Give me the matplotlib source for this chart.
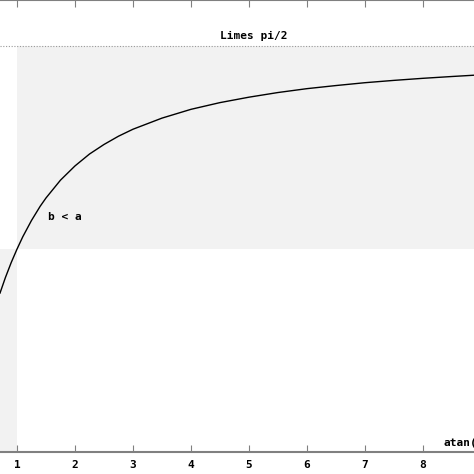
import matplotlib
matplotlib.use("Agg")
import matplotlib.pyplot as plt
from matplotlib.patches import Rectangle

xs = [0.707, 0.8, 0.9, 1.0, 1.1, 1.25, 1.4, 1.5, 1.75, 2.0, 2.25, 2.5, 2.75, 3.0, 3.5, 4.0, 4.5, 5.0, 5.5, 6.0, 6.5, 7.0, 7.5, 8.0, 8.5, 8.88]
ys = [0.615, 0.675, 0.733, 0.785, 0.833, 0.896, 0.951, 0.983, 1.052, 1.107, 1.153, 1.190, 1.222, 1.249, 1.292, 1.326, 1.352, 1.373, 1.391, 1.406, 1.418, 1.429, 1.438, 1.446, 1.453, 1.458]
ticks = [1, 2, 3, 4, 5, 6, 7, 8]
limit = 1.5708
quarter = 0.7854

fig = plt.figure(figsize=(4.74, 4.74), dpi=100)
ax = fig.add_axes([0, 0, 1, 1])
ax.set_xlim(0.707, 8.88)
ax.set_ylim(-0.085, 1.749)
ax.add_patch(Rectangle((1, quarter), 10, limit - quarter, color="#f2f2f2", lw=0, zorder=0))
ax.add_patch(Rectangle((0, 0), 1, quarter, color="#f2f2f2", lw=0, zorder=0))
ax.axhline(limit, color="#999999", ls=(0, (1, 1.5)), lw=0.8)
ax.plot(xs, ys, color="black", lw=1)
for s in ["left", "right"]:
    ax.spines[s].set_visible(False)
ax.spines["bottom"].set_position(("data", 0))
ax.spines["bottom"].set_color("#808080")
ax.spines["bottom"].set_linewidth(1.5)
ax.spines["top"].set_color("#808080")
ax.set_yticks([])
ax.set_xticks(ticks)
ax.tick_params(axis="x", direction="in", length=5, color="#808080", top=True, pad=6,
               labelsize=8)
for lab in ax.get_xticklabels():
    lab.set_fontfamily("DejaVu Sans Mono"); lab.set_fontweight("bold")
kw = dict(family="DejaVu Sans Mono", fontweight="bold", fontsize=8)
ax.text(4.5, 1.61, "Limes pi/2", ha="left", va="center", **kw)
ax.text(1.53, 0.91, "b < a", ha="left", va="center", **kw)
ax.text(8.35, 0.035, "atan(a)", ha="left", va="center", clip_on=True, **kw)
fig.savefig("out.png", dpi=100)
